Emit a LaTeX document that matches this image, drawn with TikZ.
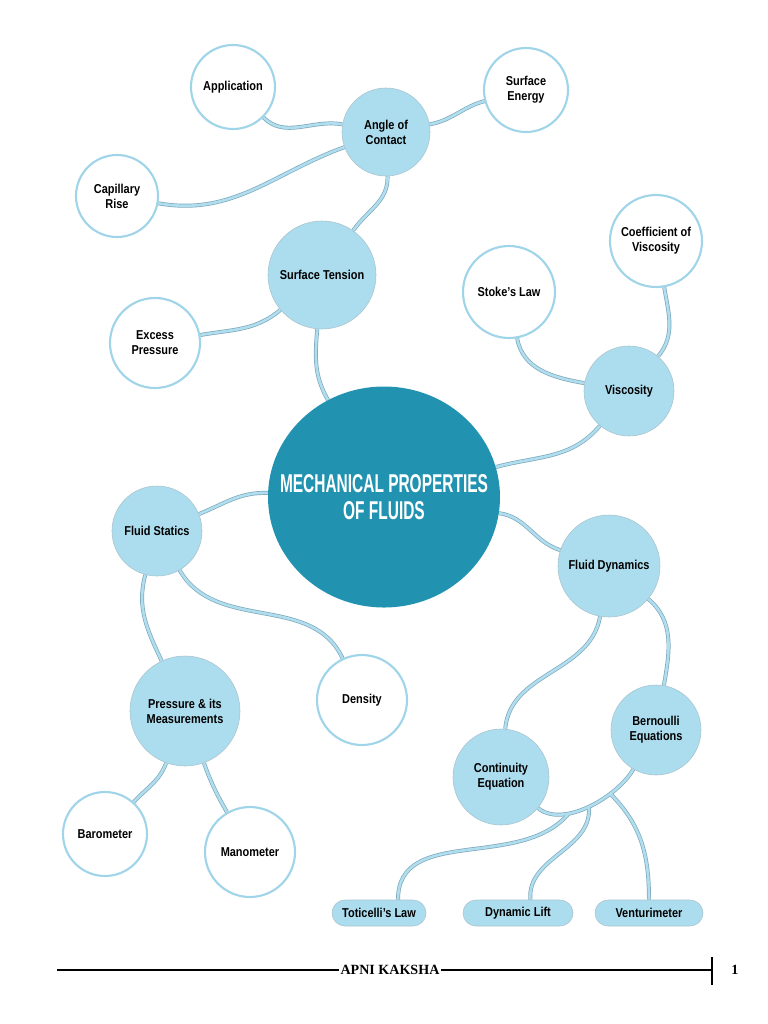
\documentclass[tikz,border=0pt]{standalone}
\usepackage{fontspec}
\setmainfont{Liberation Sans}
\newfontfamily\bubblefont[FakeStretch=0.85]{Liberation Sans}
\newfontfamily\titlefont[FakeStretch=0.6]{Liberation Sans}
\newfontfamily\footfont{Liberation Serif}
\usetikzlibrary{shapes.geometric, backgrounds}
\definecolor{hubblue}{RGB}{33,146,176}
\definecolor{paleblue}{RGB}{172,221,238}
\definecolor{ringblue}{RGB}{160,212,232}
\definecolor{topicedge}{RGB}{170,196,206}
\definecolor{linkedge}{RGB}{125,168,186}
\definecolor{linkfill}{RGB}{176,222,239}

\begin{document}
\begin{tikzpicture}[x=0.03cm, y=-0.03cm,
    bubble/.style={circle, draw=ringblue, line width=1.8pt, fill=white, align=center, inner sep=0pt,
        font=\bubblefont\bfseries\fontsize{11}{12.8}\selectfont},
    topic/.style={bubble, fill=paleblue, draw=topicedge, line width=0.5pt},
    hub/.style={ellipse, fill=hubblue, inner sep=0pt, minimum width=6.96cm, minimum height=6.63cm},
    hubtext/.style={text=white, align=center, font=\titlefont\bfseries\fontsize{22}{23}\selectfont},
    pill/.style={rectangle, rounded corners=0.39cm, draw=topicedge, line width=0.5pt, fill=paleblue,
        minimum height=0.78cm, inner sep=0pt, font=\bubblefont\bfseries\fontsize{11}{12.8}\selectfont},
    link/.style={draw=linkedge, line width=0.6pt, double=linkfill, double distance=2.2pt},
    linkrim/.style={draw=linkedge, line width=3.4pt},
    linkcore/.style={draw=linkfill, line width=2.2pt}
]
    \useasboundingbox (0,0) rectangle (768,1024);

    % Surface tension branch
    \node[bubble, minimum size=2.52cm] (app) at (233,87) {Application};
    \node[topic, minimum size=2.64cm] (aoc) at (386,132) {Angle of\\Contact};
    \node[bubble, minimum size=2.52cm] (sen) at (526,90) {Surface\\Energy};
    \node[bubble, minimum size=2.46cm] (cap) at (117,196) {Capillary\\Rise};
    \node[topic, minimum size=3.24cm] (sten) at (322,275) {Surface Tension};
    \node[bubble, minimum size=2.7cm] (exc) at (155,343) {Excess\\Pressure};

    % Viscosity branch
    \node[bubble, minimum size=2.76cm] (stk) at (509,292) {Stoke’s Law};
    \node[bubble, minimum size=2.76cm] (cov) at (656,241) {Coefficient of\\Viscosity};
    \node[topic, minimum size=2.7cm] (visc) at (629,391) {Viscosity};

    \node[hub, label={[hubtext]center:MECHANICAL PROPERTIES\\OF FLUIDS}] (mpf) at (384,497) {};

    % Fluid statics branch
    \node[topic, minimum size=2.7cm] (fst) at (157,531) {Fluid Statics};
    \node[bubble, minimum size=2.7cm] (den) at (362,700) {Density};
    \node[topic, minimum size=3.3cm] (prs) at (185,711) {Pressure \& its\\Measurements};
    \node[bubble, minimum size=2.52cm] (bar) at (105,834) {Barometer};
    \node[bubble, minimum size=2.7cm] (man) at (250,852) {Manometer};

    % Fluid dynamics branch
    \node[topic, minimum size=3.06cm] (fdy) at (609,566) {Fluid Dynamics};
    \node[topic, minimum size=2.7cm] (ber) at (656,730) {Bernoulli\\Equations};
    \node[topic, minimum size=2.88cm] (con) at (501,777) {Continuity\\Equation};
    \node[pill, minimum width=2.82cm] (tor) at (379,913) {Toticelli’s Law};
    \node[pill, minimum width=3.3cm] (dyn) at (518,913) {Dynamic Lift};
    \node[pill, minimum width=3.24cm] (ven) at (649,913) {Venturimeter};

    \begin{scope}[on background layer]
        \draw[link] (app) to[out=-45, in=170] (aoc);
        \draw[link] (cap) to[out=-10, in=200] (aoc);
        \draw[link] (sen) to[out=195, in=10] (aoc);
        \draw[link] (aoc) to[out=-88, in=55] (sten);
        \draw[link] (exc) to[out=10, in=220] (sten);
        \draw[link] (sten) to[out=-95, in=120] (mpf);
        \draw[link] (stk) to[out=-80, in=170] (visc);
        \draw[link] (cov) to[out=-80, in=50] (visc);
        \draw[link] (visc) to[out=230, in=15] (mpf);
        \draw[link] (fst) to[out=22, in=178] (mpf);
        \draw[link] (mpf) to[out=-8, in=162] (fdy);
        \draw[link] (fst) to[out=-105, in=115] (prs);
        \draw[link] (fst) to[out=-60, in=115] (den);
        \draw[link] (prs) to[out=-110, in=48] (bar);
        \draw[link] (prs) to[out=-70, in=120] (man);
        \draw[link] (fdy) to[out=-100, in=85] (con);
        \draw[link] (fdy) to[out=-40, in=80] (ber);
        % joined branches: rim first, then core
        \foreach \layer in {linkrim, linkcore} {
            \draw[\layer] (ber) to[out=-120, in=-40, looseness=0.8]
                coordinate[pos=0.3] (brv) coordinate[pos=0.5] (brd) coordinate[pos=0.68] (brt) (con);
            \draw[\layer] (brt) to[out=-130, in=90] (tor.35);
            \draw[\layer] (brd) to[out=-85, in=95] (dyn.47);
            \draw[\layer] (brv) to[out=-45, in=90] (ven.north);
        }
    \end{scope}

    % Footer
    \node[font=\footfont\bfseries\fontsize{12}{14}\selectfont, inner sep=1pt] (foot) at (390,970) {APNI KAKSHA};
    \coordinate (rulestart) at (57,970);
    \coordinate (ruleend) at (712,970);
    \draw[line width=1.1pt] (rulestart) -- (foot.west);
    \draw[line width=1.1pt] (foot.east) -- (ruleend);
    \draw[line width=1.1pt] (712,957) -- (712,985);
    \node[font=\footfont\bfseries\fontsize{12}{14}\selectfont] (pagenum) at (735,970) {1};
\end{tikzpicture}
\end{document}
